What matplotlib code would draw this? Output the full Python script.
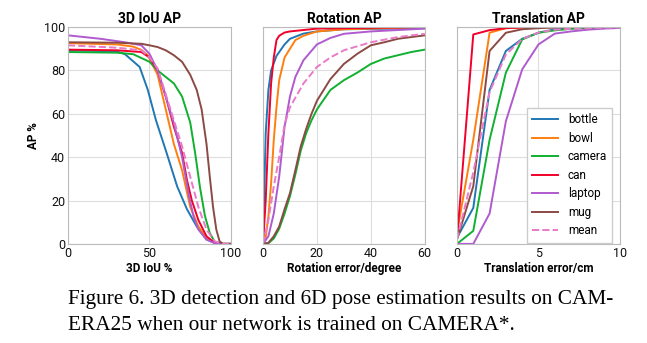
import numpy as np
import matplotlib
matplotlib.use("Agg")
import matplotlib.pyplot as plt

plt.rcParams['font.family'] = ['Roboto', 'DejaVu Sans']

names = ["bottle", "bowl", "camera", "can", "laptop", "mug", "mean"]
colors = ["#1f77b4", "#ff7f0e", "#10b030", "#f0002a", "#b05ad0", "#8c4a44", "#e87ac8"]

# 3D IoU AP
iou_x = {
    "bottle": [0, 30, 35, 44, 49, 54, 60.5, 67, 73, 79, 85, 90, 95, 100],
    "bowl": [0, 30, 40, 45, 49, 55, 60, 65, 70, 75, 80, 85, 90, 95, 100],
    "camera": [0, 30, 40, 50, 55, 60, 65, 70, 75, 78, 81, 84, 87, 90, 95, 100],
    "can": [0, 30, 45, 50, 55, 60, 65, 70, 73, 76, 80, 85, 90, 95, 100],
    "laptop": [0, 20, 35, 45, 50, 55, 60, 65, 70, 74, 77, 80, 85, 90, 95, 100],
    "mug": [0, 30, 45, 50, 55, 60, 65, 70, 75, 79, 82, 85, 87, 89, 91, 93, 95, 100],
    "mean": [0, 30, 45, 50, 55, 60, 65, 70, 75, 80, 85, 90, 95, 100],
}
iou_y = {
    "bottle": [89.3, 88.8, 87.5, 81.6, 71, 57, 42, 26.5, 16, 8, 2, 0.5, 0, 0],
    "bowl": [92.6, 92, 91, 89.5, 87, 78, 62, 46, 34, 17, 8, 3, 0.5, 0, 0],
    "camera": [88.5, 88.2, 87.5, 84, 80, 77, 74, 68, 56, 42, 26, 13, 5, 1, 0, 0],
    "can": [89.6, 89.3, 88.5, 86, 80, 68, 54, 42, 29.5, 20, 11, 3.5, 0.5, 0, 0],
    "laptop": [96.2, 94.6, 93, 91.6, 87.7, 80, 68, 55.6, 40, 23, 12.7, 6.6, 2, 0.3, 0, 0],
    "mug": [93, 92.8, 92.3, 91.6, 90.8, 89.3, 87, 84, 78, 71, 62, 46, 31, 17, 6.6, 1.2, 0, 0],
    "mean": [91.6, 90.5, 89.3, 86, 81, 69, 57, 45, 31, 17, 6.6, 1.2, 0, 0],
}

# Rotation AP
rot_x = {
    "bottle": [0, 1, 2, 3, 5, 8, 10, 15, 20, 30, 60],
    "bowl": [0, 1, 2, 3, 4, 5, 6, 8, 10, 12, 15, 20, 30, 60],
    "camera": [0, 2, 4, 6, 8, 10, 12, 14, 16, 18, 20, 25, 30, 35, 40, 45, 50, 55, 60],
    "can": [0, 1, 2, 3, 4, 5, 6, 8, 10, 20, 60],
    "laptop": [0, 2, 4, 6, 8, 10, 12, 15, 20, 25, 30, 40, 60],
    "mug": [0, 2, 4, 6, 8, 10, 12, 14, 16, 18, 20, 25, 30, 35, 40, 45, 50, 60],
    "mean": [0, 2, 4, 6, 8, 10, 15, 20, 25, 30, 40, 50, 60],
}
rot_y = {
    "bottle": [0, 51, 71, 80, 86.7, 92, 94.6, 97, 98, 99, 99.5],
    "bowl": [0, 3, 12.7, 28, 48, 63, 75.5, 86, 90, 94, 96, 98, 99, 100],
    "camera": [0, 0.3, 2.5, 7, 14, 22, 32, 43, 51, 57, 62, 71, 75.5, 79, 83, 85.5, 87, 88.5, 89.6],
    "can": [0, 20, 51, 74, 86, 94, 96, 97.5, 98, 99.3, 100],
    "laptop": [0, 3.5, 14, 31, 54, 68, 77, 84.7, 92, 95, 96.9, 98, 99.3],
    "mug": [0, 0.5, 3.5, 8, 16, 23.4, 34, 45, 53, 60, 66, 76, 83, 87.7, 91.6, 93, 94.6, 96.2],
    "mean": [0, 11, 26.5, 40, 55, 63, 74, 81.6, 86, 89.3, 93, 95.4, 96.9],
}

# Translation AP
trans_x = [0, 1, 2, 3, 4, 5, 6, 7, 8, 9, 10]
trans_y = {
    "bottle": [2.8, 16.6, 71, 89, 94.6, 97.4, 99, 99.5, 99.7, 99.8, 100],
    "bowl": [5, 48, 97.4, 99.5, 99.8, 100, 100, 100, 100, 100, 100],
    "camera": [0, 6, 48, 79, 94.3, 97.4, 98.5, 99.2, 99.6, 99.8, 100],
    "can": [2, 96.6, 98.6, 99.5, 99.8, 100, 100, 100, 100, 100, 100],
    "laptop": [0, 0, 14, 56.6, 80.5, 92, 97, 98, 98.8, 99.3, 99.6],
    "mug": [2, 26.6, 89, 97.4, 99, 99.5, 99.8, 100, 100, 100, 100],
    "mean": [2, 33, 70, 87.4, 94.5, 97.5, 98.8, 99.2, 99.5, 99.7, 99.8],
}

fig = plt.figure(figsize=(6.47, 3.43), dpi=100)
ax1 = fig.add_axes([0.105, 0.289, 0.252, 0.632])
ax2 = fig.add_axes([0.4065, 0.289, 0.250, 0.632])
ax3 = fig.add_axes([0.7063, 0.289, 0.252, 0.632])

for name, c in zip(names, colors):
    ls = "--" if name == "mean" else "-"
    ax1.plot(iou_x[name], iou_y[name], color=c, ls=ls, lw=1.4, label=name)
    ax2.plot(rot_x[name], rot_y[name], color=c, ls=ls, lw=1.4, label=name)
    ax3.plot(trans_x, trans_y[name], color=c, ls=ls, lw=1.4, label=name)

setup = [
    (ax1, "3D IoU AP", "3D IoU %", 100, [0, 50, 100]),
    (ax2, "Rotation AP", "Rotation error/degree", 60, [0, 20, 40, 60]),
    (ax3, "Translation AP", "Translation error/cm", 10, [0, 5, 10]),
]
for ax, title, xlabel, xmax, xt in setup:
    ax.set_xlim(0, xmax)
    ax.set_ylim(0, 100)
    ax.set_xticks(xt)
    ax.set_yticks([0, 20, 40, 60, 80, 100])
    ax.set_title(title, fontsize=10, fontweight="bold", pad=3)
    ax.set_xlabel(xlabel, fontsize=8.5, fontweight="bold", labelpad=2)
    ax.grid(color="#dddddd", lw=0.8)
    ax.set_axisbelow(True)
    ax.tick_params(length=0, labelsize=9, pad=2, labelcolor="#111111")
    for s in ax.spines.values():
        s.set_color("#bbbbbb")
        s.set_linewidth(0.8)
    if ax is not ax1:
        ax.set_yticklabels([])

ax1.set_ylabel("AP %", fontsize=8.5, fontweight="bold", labelpad=3)

ax3.legend(loc="lower right", bbox_to_anchor=(0.96, 0.0), borderaxespad=0.1,
           fontsize=8.5, frameon=True, edgecolor="#cccccc", framealpha=1,
           fancybox=False, handlelength=2.2, labelspacing=0.47, borderpad=0.45)

fig.text(0.105, 0.113, "Figure 6. 3D detection and 6D pose estimation results on CAM-",
         family="Liberation Serif", fontsize=15.3)
fig.text(0.105, 0.037, "ERA25 when our network is trained on CAMERA*.",
         family="Liberation Serif", fontsize=15.3)

fig.savefig("out.png", dpi=100)
